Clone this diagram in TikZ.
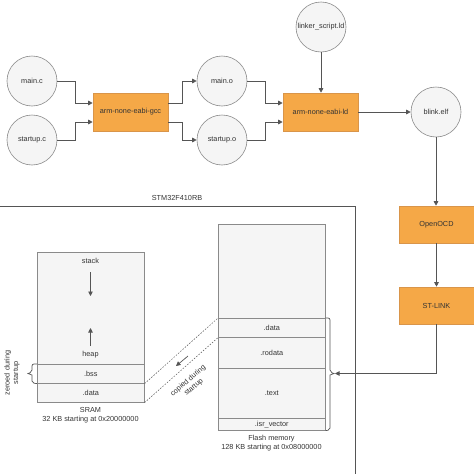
\documentclass[tikz,border=0pt]{standalone}
\usepackage{fontspec}
\setmainfont{Liberation Sans}
\usetikzlibrary{arrows.meta}
\definecolor{orfill}{HTML}{F5A847}
\definecolor{ordraw}{HTML}{D9954A}
\definecolor{grfill}{HTML}{F5F5F5}
\definecolor{grdraw}{HTML}{8A8A8A}
\definecolor{ln}{HTML}{555555}
\definecolor{tx}{HTML}{333333}
\begin{document}
\begin{tikzpicture}[x=1pt,y=-1pt,
  font=\fontsize{7.3}{8.6}\selectfont, text=tx,
  file/.style={circle,draw=grdraw,fill=grfill,minimum size=50pt,inner sep=0pt,line width=0.6pt},
  tool/.style={rectangle,draw=ordraw,fill=orfill,minimum width=75pt,minimum height=38pt,inner sep=0pt,line width=0.6pt},
  mem/.style={rectangle,draw=grdraw,fill=grfill,minimum width=107pt,inner sep=0pt,line width=0.6pt,anchor=north west},
  conn/.style={draw=ln,line width=0.7pt,-{Triangle[width=4.5pt,length=4.5pt]}},
  dashln/.style={draw=ln,line width=0.5pt,dash pattern=on 1.5pt off 1.5pt},
  brc/.style={draw=ln,line width=0.7pt,rounded corners=2pt}
]
\useasboundingbox (0,0) rectangle (474,474);
\begin{scope}
\clip (0,0) rectangle (474,474);
% STM32 board
\draw[ln,line width=0.8pt] (-3,206) rectangle (355,480);
\end{scope}
\node[anchor=south] (mcu) at (177,204) {STM32F410RB};

% files and tools
\node[file] (mainc) at (32,81) {main.c};
\node[file] (startc) at (32,140) {startup.c};
\node[tool] (gcc) at (130.5,112) {arm-none-eabi-gcc};
\node[file] (maino) at (222,81) {main.o};
\node[file] (starto) at (222,140) {startup.o};
\node[file] (lds) at (321,27) {linker\_script.ld};
\node[tool] (ld) at (320.5,112) {arm-none-eabi-ld};
\node[file] (elf) at (436,112) {blink.elf};
\node[tool,minimum height=37pt] (ocd) at (436.5,224.5) {OpenOCD};
\node[tool,minimum height=37pt] (stl) at (436.5,305.5) {ST-LINK};

\draw[conn] (mainc.east) -| (75,103) -- (gcc.west |- 0,103);
\draw[conn] (startc.east) -| (75,122) -- (gcc.west |- 0,122);
\draw[conn] (gcc.east |- 0,103) -| (182,81) -- (maino.west);
\draw[conn] (gcc.east |- 0,122) -| (182,140) -- (starto.west);
\draw[conn] (maino.east) -| (265,103) -- (ld.west |- 0,103);
\draw[conn] (starto.east) -| (265,122) -- (ld.west |- 0,122);
\draw[conn] (lds.south) -- (lds.south |- ld.north);
\draw[conn] (ld.east) -- (elf.west);
\draw[conn] (elf.south) -- (elf.south |- ocd.north);
\draw[conn] (ocd.south) -- (ocd.south |- stl.north);

% SRAM
\node[mem,minimum height=112pt] (sfree) at (37,252) {};
\node[mem,minimum height=19pt] (sbss) at (37,364) {.bss};
\node[mem,minimum height=19pt] (sdata) at (37,383) {.data};
\node (stack) at (90.5,261) {stack};
\node (heap) at (90.5,355) {heap};
\coordinate (sd1) at (90.5,272);
\coordinate (sd2) at (90.5,296);
\coordinate (su1) at (90.5,346);
\coordinate (su2) at (90.5,328);
\draw[conn] (sd1) -- (sd2);
\draw[conn] (su1) -- (su2);
\node[align=center,anchor=north] (sramlbl) at (90.5,404) {SRAM\\32 KB starting at 0x20000000};
\draw[brc] (sbss.north west) -- (32,364) -- (32,372) [sharp corners] -- (28,373.5) -- (32,375) [rounded corners=2pt] -- (32,383) -- (sbss.south west);
\node[rotate=90,align=center] (zero) at (12,373) {zeroed during\\startup};

% Flash
\node[mem,minimum height=94pt] (ffree) at (218,224) {};
\node[mem,minimum height=19pt] (fdata) at (218,318) {.data};
\node[mem,minimum height=31pt] (frodata) at (218,337) {.rodata};
\node[mem,minimum height=50pt] (ftext) at (218,368) {.text};
\node[mem,minimum height=12pt] (fisr) at (218,418) {.isr\_vector};
\node[align=center,anchor=north] (flashlbl) at (271.5,432) {Flash memory\\128 KB starting at 0x08000000};
\draw[brc] (fdata.north east) -- (330,318) -- (330,372) [sharp corners] -- (334,373.5) -- (330,375) [rounded corners=2pt] -- (330,430) -- (fisr.south east);
\coordinate (ftip) at (335,373.5);
\draw[conn] (stl.south) |- (ftip);

% copy
\draw[dashln] (sbss.south east) -- (fdata.north west);
\draw[dashln] (sdata.south east) -- (fdata.south west);
\coordinate (ca1) at (188,356);
\coordinate (ca2) at (176,366);
\draw[conn] (ca1) -- (ca2);
\node[rotate=41,align=center] (copied) at (191,384) {copied during\\startup};
\end{tikzpicture}
\end{document}
